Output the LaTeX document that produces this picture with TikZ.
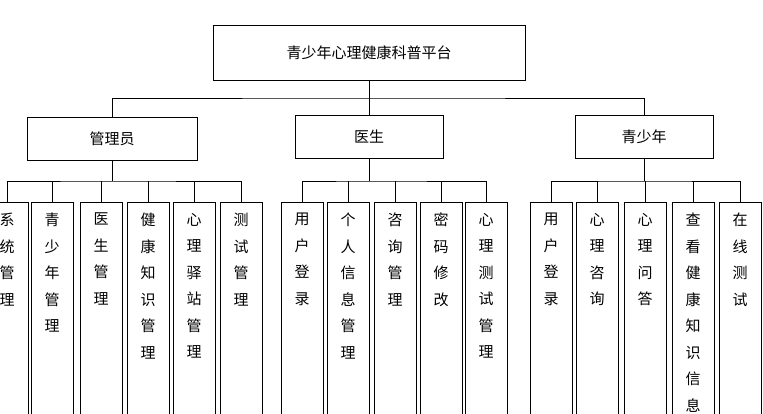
\documentclass[tikz,border=0pt]{standalone}
\usepackage{fontspec}
\setmainfont{Noto Sans CJK SC}
\begin{document}
\begin{tikzpicture}[x=1pt,y=-1pt,
  box/.style={draw,line width=0.6pt,inner sep=0pt,font=\fontsize{15}{15}\selectfont},
  leaf/.style={draw,line width=0.6pt,minimum width=42,minimum height=230,anchor=north,inner sep=0pt},
  vtxt/.style={anchor=north,align=center,inner sep=0pt,font=\fontsize{15}{26.5}\selectfont},
  conn/.style={line width=0.6pt}]
\useasboundingbox (0,0) rectangle (763,414);
\clip (0,0) rectangle (763,414);
\node[box,minimum width=312,minimum height=55] (root) at (369,52.5) {青少年心理健康科普平台};
\node[box,minimum width=170,minimum height=43] (a) at (112,138.5) {管理员};
\node[box,minimum width=148,minimum height=43] (d) at (369,136.5) {医生};
\node[box,minimum width=138,minimum height=43] (y) at (644,136.5) {青少年};
\draw[conn] (root.south) -- (369,98) coordinate (j);
\draw[conn] (a.north) |- (j) -| (y.north);
\draw[conn] (j) -- (d.north);
\foreach \n/\x/\t in {a1/7/系\\统\\管\\理, a2/52/青\\少\\年\\管\\理, a3/101/医\\生\\管\\理,
  a4/148/健\\康\\知\\识\\管\\理, a5/194/心\\理\\驿\\站\\管\\理, a6/241/测\\试\\管\\理,
  d1/302/用\\户\\登\\录, d2/348/个\\人\\信\\息\\管\\理, d3/395/咨\\询\\管\\理,
  d4/441/密\\码\\修\\改, d5/486/心\\理\\测\\试\\管\\理,
  y1/551/用\\户\\登\\录, y2/597/心\\理\\咨\\询, y3/645/心\\理\\问\\答,
  y4/693/查\\看\\健\\康\\知\\识\\信\\息, y5/740/在\\线\\测\\试}{
  \node[leaf] (\n) at (\x,202) {};
  \node[vtxt] at (\x,213) {\t};
}
\draw[conn] (a.south) -- (112,181) coordinate (ja);
\draw[conn] (a1.north) |- (ja) -| (a6.north);
\foreach \n in {a2,a3,a4,a5}{\draw[conn] (\n.north) -- (\n.north |- ja);}
\draw[conn] (d.south) -- (369,181) coordinate (jd);
\draw[conn] (d1.north) |- (jd) -| (d5.north);
\foreach \n in {d2,d3,d4}{\draw[conn] (\n.north) -- (\n.north |- jd);}
\draw[conn] (y.south) -- (644,181) coordinate (jy);
\draw[conn] (y1.north) |- (jy) -| (y5.north);
\foreach \n in {y2,y3,y4}{\draw[conn] (\n.north) -- (\n.north |- jy);}
\end{tikzpicture}
\end{document}
